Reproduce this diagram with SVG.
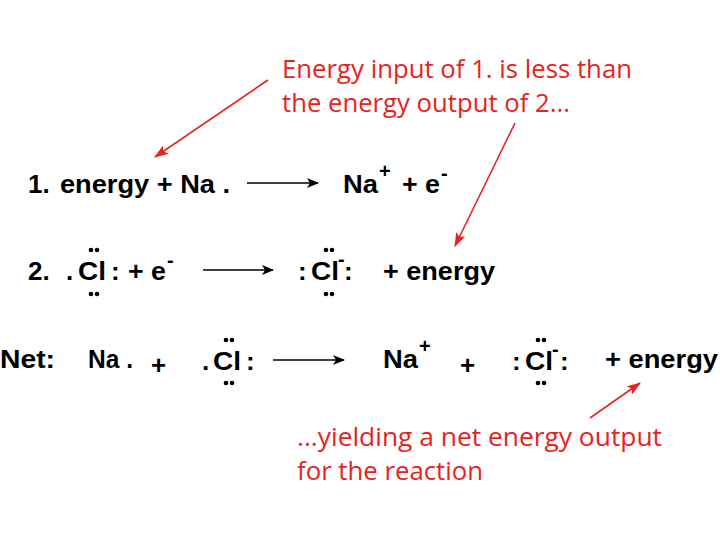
<svg xmlns="http://www.w3.org/2000/svg" width="720" height="540" viewBox="0 0 720 540">
<style>
.b{font-family:"Liberation Sans",Arial,sans-serif;font-weight:bold;font-size:26px;fill:#000}
.s{font-size:20px}
.r{font-family:"Open Sans","Liberation Sans",sans-serif;font-size:25.5px;fill:#e8221c}
.d{fill:#000}
.ar{stroke:#000;stroke-width:1.6;fill:none}
.rl{stroke:#e8221c;stroke-width:1.6;fill:none}
</style>
<defs>
<marker id="ka" markerWidth="12" markerHeight="10" refX="11" refY="5" orient="auto" markerUnits="userSpaceOnUse"><path d="M0,0 L12,5 L0,10 L3,5 Z" fill="#000"/></marker>
<marker id="ra" markerWidth="14" markerHeight="10" refX="13" refY="5" orient="auto" markerUnits="userSpaceOnUse"><path d="M0,0 L14,5 L0,10 L3,5 Z" fill="#e8221c"/></marker>
<g id="dots2"><circle cx="-3" cy="0" r="2.3"/><circle cx="3" cy="0" r="2.3"/></g>
</defs>
<rect width="720" height="540" fill="#fff"/>
<g id="line1">
<text class="b" x="28" y="193">1.</text>
<text class="b" x="60" y="193" textLength="170" lengthAdjust="spacingAndGlyphs">energy + Na .</text>
<text class="b" x="343" y="193" textLength="35" lengthAdjust="spacingAndGlyphs">Na</text><text class="b s" x="379" y="178">+</text>
<text class="b" x="402" y="193" textLength="38" lengthAdjust="spacingAndGlyphs">+ e</text><text class="b s" x="441" y="180">-</text>
</g>
<g id="line2">
<text class="b" x="28" y="280">2.</text>
<text class="b" x="66" y="280">.</text>
<text class="b" x="78" y="280" textLength="28" lengthAdjust="spacingAndGlyphs">Cl</text>
<use href="#dots2" x="94" y="250" class="d"/><use href="#dots2" x="94" y="294" class="d"/>
<text class="b" x="111" y="280">:</text>
<text class="b" x="128" y="280" textLength="38" lengthAdjust="spacingAndGlyphs">+ e</text><text class="b s" x="167" y="267">-</text>
<text class="b" x="298" y="280">:</text>
<text class="b" x="311" y="280" textLength="28" lengthAdjust="spacingAndGlyphs">Cl</text><text class="b s" x="338" y="266">-</text>
<use href="#dots2" x="329" y="250" class="d"/><use href="#dots2" x="329" y="294" class="d"/>
<text class="b" x="344" y="280">:</text>
<text class="b" x="383" y="280" textLength="112" lengthAdjust="spacingAndGlyphs">+ energy</text>
</g>
<g id="net">
<text class="b" x="0" y="368" textLength="55" lengthAdjust="spacingAndGlyphs">Net:</text>
<text class="b" x="88" y="368" textLength="45" lengthAdjust="spacingAndGlyphs">Na .</text>
<text class="b" x="151" y="374">+</text>
<text class="b" x="202" y="370">.</text>
<text class="b" x="213" y="370" textLength="28" lengthAdjust="spacingAndGlyphs">Cl</text>
<use href="#dots2" x="229" y="340" class="d"/><use href="#dots2" x="229" y="383" class="d"/>
<text class="b" x="246" y="370">:</text>
<text class="b" x="383" y="368" textLength="35" lengthAdjust="spacingAndGlyphs">Na</text><text class="b s" x="419" y="353">+</text>
<text class="b" x="460" y="374">+</text>
<text class="b" x="512" y="370">:</text>
<text class="b" x="525" y="370" textLength="28" lengthAdjust="spacingAndGlyphs">Cl</text><text class="b s" x="552" y="356">-</text>
<use href="#dots2" x="541" y="340" class="d"/><use href="#dots2" x="541" y="383" class="d"/>
<text class="b" x="560" y="370">:</text>
<text class="b" x="605" y="368" textLength="113" lengthAdjust="spacingAndGlyphs">+ energy</text>
</g>
<g id="notes">
<text class="r" x="282" y="78" textLength="350" lengthAdjust="spacingAndGlyphs">Energy input of 1. is less than</text>
<text class="r" x="282" y="112" textLength="288" lengthAdjust="spacingAndGlyphs">the energy output of 2...</text>
<text class="r" x="297" y="446" textLength="365" lengthAdjust="spacingAndGlyphs">...yielding a net energy output</text>
<text class="r" x="297" y="480" textLength="186" lengthAdjust="spacingAndGlyphs">for the reaction</text>
</g>
<g id="connectors">
<line class="ar" x1="247" y1="183" x2="318" y2="183" marker-end="url(#ka)"/>
<line class="ar" x1="203" y1="270" x2="273" y2="270" marker-end="url(#ka)"/>
<line class="ar" x1="273" y1="360" x2="344" y2="360" marker-end="url(#ka)"/>
<line class="rl" x1="268" y1="80" x2="155" y2="157" marker-end="url(#ra)"/>
<line class="rl" x1="515" y1="123" x2="455" y2="246" marker-end="url(#ra)"/>
<line class="rl" x1="590" y1="418" x2="640" y2="383" marker-end="url(#ra)"/>
</g>
</svg>
